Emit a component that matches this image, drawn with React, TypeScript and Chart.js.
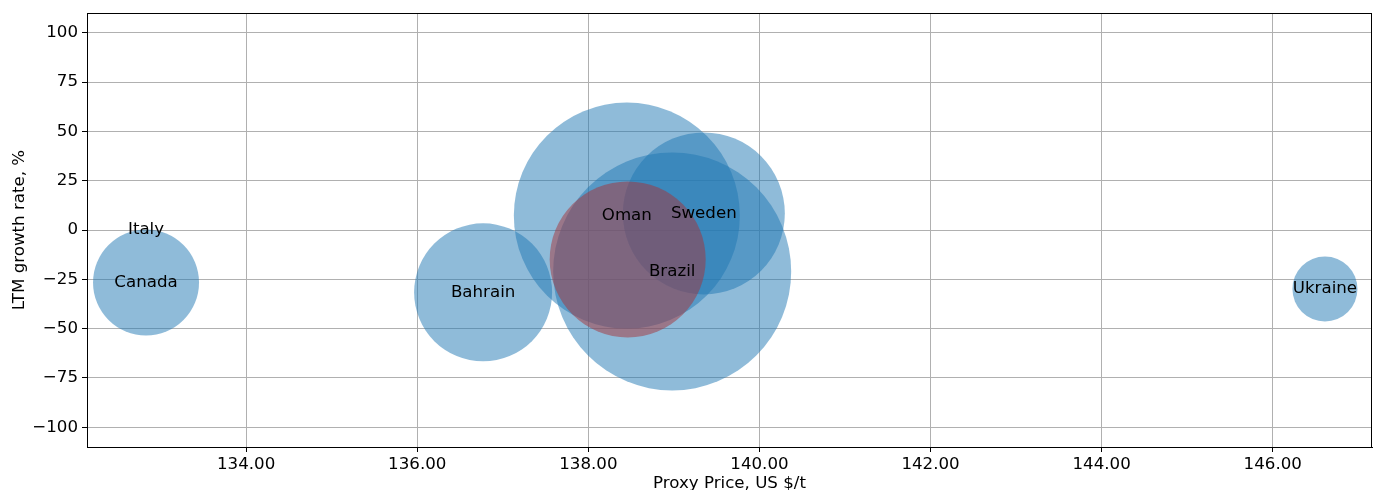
import React, { useEffect, useRef } from 'react';
import { Chart, registerables } from 'chart.js';

Chart.register(...registerables);

const countries = ['Italy', 'Canada', 'Bahrain', 'Oman', 'Sweden', 'Brazil', 'Ukraine'];
const proxyPrices = [132.83, 132.83, 136.77, 138.45, 139.35, 138.98, 146.61];
const growthRates = [0.0, -26.6, -31.6, 7.3, 8.4, -21.0, -29.9];
const bubbleRadii = [0, 53, 69, 113, 81, 119, 32.5];

const highlightPrice = [138.46];
const highlightGrowth = [-14.9];
const highlightRadius = [78];

const xTicks = [134, 136, 138, 140, 142, 144, 146];
const yTicks = [-100, -75, -50, -25, 0, 25, 50, 75, 100];
const xRange = [132.14, 147.16];
const yRange = [-110, 110];

const FONT = 'DejaVu Sans';
const FS = 16.67;

export default function App() {
  const ref = useRef<HTMLCanvasElement | null>(null);

  useEffect(() => {
    if (!ref.current) return;
    const mainData = countries.map((c, i) => ({ x: proxyPrices[i], y: growthRates[i], r: bubbleRadii[i] }));
    const hiData = highlightPrice.map((p, i) => ({ x: p, y: highlightGrowth[i], r: highlightRadius[i] }));

    const overlay = {
      id: 'overlay',
      afterDraw(chart: any) {
        const { ctx, chartArea } = chart;
        const meta = chart.getDatasetMeta(1);
        ctx.save();
        ctx.fillStyle = '#000';
        ctx.font = `${FS}px "${FONT}"`;
        ctx.textAlign = 'center';
        ctx.textBaseline = 'middle';
        meta.data.forEach((el: any, i: number) => {
          ctx.fillText(countries[i], el.x, el.y);
        });
        ctx.strokeStyle = '#000';
        ctx.lineWidth = 1;
        ctx.strokeRect(
          Math.round(chartArea.left) + 0.5,
          Math.round(chartArea.top) + 0.5,
          Math.round(chartArea.right - chartArea.left) - 1,
          Math.round(chartArea.bottom - chartArea.top)
        );
        ctx.restore();
      },
    };

    const chart = new Chart(ref.current, {
      type: 'bubble',
      data: {
        datasets: [
          {
            label: 'Highlight',
            data: hiData,
            backgroundColor: 'rgba(165,51,57,0.5)',
            borderWidth: 0,
            hoverBorderWidth: 0,
          },
          {
            label: 'Countries',
            data: mainData,
            backgroundColor: 'rgba(31,119,180,0.5)',
            borderWidth: 0,
            hoverBorderWidth: 0,
          },
        ],
      },
      options: {
        responsive: false,
        animation: false,
        events: [],
        layout: { autoPadding: false, padding: { top: 13, right: 1, left: 0, bottom: 0 } },
        plugins: { legend: { display: false }, tooltip: { enabled: false } },
        scales: {
          x: {
            type: 'linear',
            min: xRange[0],
            max: xRange[1],
            z: 1,
            afterBuildTicks: (s: any) => { s.ticks = xTicks.map((v) => ({ value: v })); },
            afterFit: (s: any) => { s.height = 53; s.paddingLeft = 0; s.paddingRight = 0; },
            grid: { color: '#b0b0b0', lineWidth: 1, tickColor: '#000', tickLength: 5, tickWidth: 1 },
            border: { display: true, color: '#000', width: 1 },
            ticks: {
              color: '#000',
              font: { family: FONT, size: FS },
              padding: 3,
              maxRotation: 0,
              autoSkip: false,
              callback: (v: any) => Number(v).toFixed(2),
            },
            title: {
              display: true,
              text: 'Proxy Price, US $/t',
              color: '#000',
              font: { family: FONT, size: FS },
              padding: { top: 0, bottom: 6 },
            },
          },
          y: {
            type: 'linear',
            min: yRange[0],
            max: yRange[1],
            z: 1,
            afterBuildTicks: (s: any) => { s.ticks = yTicks.map((v) => ({ value: v })); },
            afterFit: (s: any) => { s.width = 87; s.paddingTop = 0; s.paddingBottom = 0; },
            grid: { color: '#b0b0b0', lineWidth: 1, tickColor: '#000', tickLength: 5, tickWidth: 1 },
            border: { display: true, color: '#000', width: 1 },
            ticks: {
              color: '#000',
              font: { family: FONT, size: FS },
              padding: 4,
              autoSkip: false,
              callback: (v: any) => (Number(v) < 0 ? '\u2212' + Math.abs(Number(v)) : String(v)),
            },
            title: {
              display: true,
              text: 'LTM growth rate, %',
              color: '#000',
              font: { family: FONT, size: FS },
              padding: { top: 10, bottom: 0 },
            },
          },
        },
      },
      plugins: [overlay],
    });
    return () => chart.destroy();
  }, []);

  return (
    <div style={{ position: 'fixed', left: 0, top: 0, width: 1373, height: 500, background: '#fff' }}>
      <canvas ref={ref} width={1373} height={500} style={{ display: 'block', width: 1373, height: 500 }} />
    </div>
  );
}
